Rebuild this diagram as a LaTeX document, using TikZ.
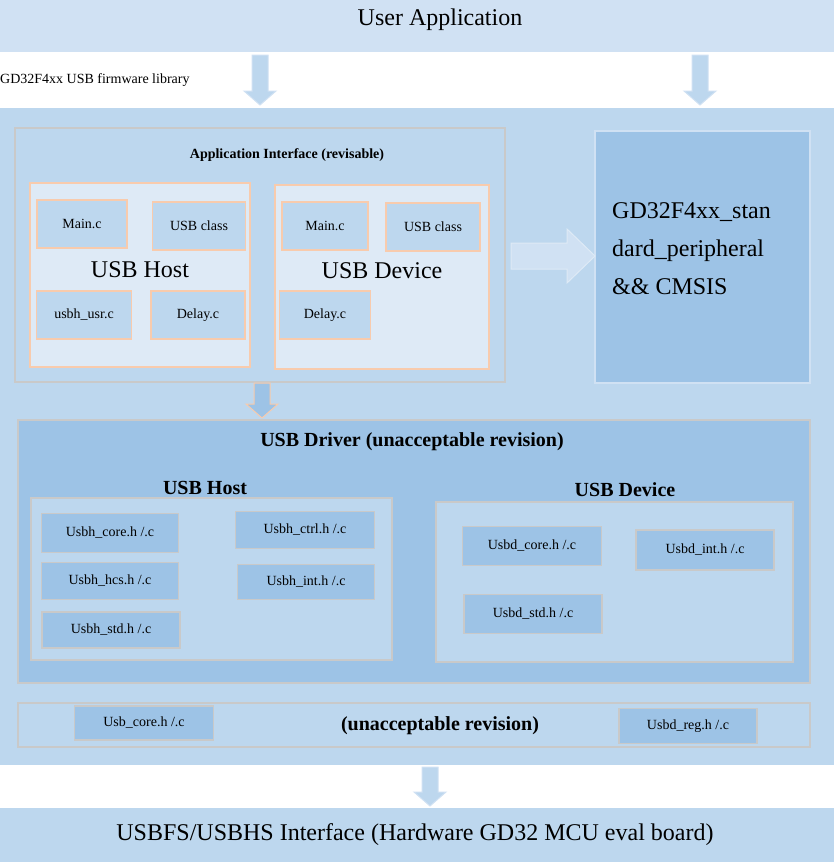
\documentclass[tikz,border=0pt]{standalone}
\usepackage{fontspec}
\setmainfont{Liberation Serif}
\newfontfamily\tnr{Liberation Serif}
\usetikzlibrary{positioning}

\definecolor{paleblue}{HTML}{D0E1F3}
\definecolor{midblue}{HTML}{BDD7EE}
\definecolor{deepblue}{HTML}{9DC3E6}
\definecolor{lightfill}{HTML}{DEEAF6}
\definecolor{peach}{HTML}{F8CBAD}
\definecolor{edgegray}{HTML}{C9C9C9}

\tikzset{
  panel/.style={draw=edgegray, line width=1.5pt},
  file/.style={draw=edgegray, line width=1.5pt, fill=deepblue, inner sep=0pt, font=\tnr\fontsize{14}{16}\selectfont},
  appfile/.style={draw=peach, line width=1.5pt, fill=midblue, inner sep=0pt, font=\tnr\fontsize{14}{16}\selectfont},
  big/.style={font=\tnr\fontsize{24}{28}\selectfont},
  head/.style={font=\tnr\bfseries\fontsize{20}{24}\selectfont},
  blockarrow/.style={fill=midblue, draw=paleblue, line width=1pt}
}
% down arrow: x, top, bottom
\newcommand{\downarrowshape}[4][blockarrow]{%
  \draw[#1] (#2-8,#3) -- (#2+8,#3) -- (#2+8,#4-14) -- (#2+16,#4-14) -- (#2,#4)
    -- (#2-16,#4-14) -- (#2-8,#4-14) -- cycle;}

\begin{document}
\begin{tikzpicture}[x=1pt,y=-1pt]
  \useasboundingbox (0,0) rectangle (834,862);

  % bands
  \fill[paleblue] (0,0) rectangle (834,52);
  \node[big] (user) at (440,20) {User Application};
  \fill[midblue] (0,108) rectangle (834,765);
  \fill[midblue] (0,808) rectangle (834,862);
  \node[big] (hw) at (415,835) {USBFS/USBHS Interface (Hardware GD32 MCU eval board)};
  \node[anchor=west, inner sep=0pt, font=\tnr\fontsize{14}{16}\selectfont] (lib) at (0,80) {GD32F4xx USB firmware library};

  \downarrowshape{260}{55}{105}
  \downarrowshape{700}{55}{105}
  \downarrowshape{430}{767}{806}

  % application interface
  \draw[panel, fill=midblue] (15,128) rectangle (505,382);
  \node[font=\tnr\bfseries\fontsize{14}{16}\selectfont] (apptitle) at (287,155) {Application Interface (revisable)};
  \draw[draw=peach, line width=1.5pt, fill=lightfill] (30,183) rectangle (250,367);
  \draw[draw=peach, line width=1.5pt, fill=lightfill] (275,185) rectangle (489,369);
  \node[appfile, minimum width=90pt, minimum height=48pt] (hmain) at (82,224) {Main.c};
  \node[appfile, minimum width=93pt, minimum height=48pt] (hclass) at (199,226) {USB class};
  \node[appfile, minimum width=95pt, minimum height=48pt] (husr) at (84,315) {usbh\_usr.c};
  \node[appfile, minimum width=94pt, minimum height=48pt] (hdelay) at (198,315) {Delay.c};
  \node[big] (hostlbl) at (140,270) {USB Host};
  \node[appfile, minimum width=86pt, minimum height=48pt] (dmain) at (325,226) {Main.c};
  \node[appfile, minimum width=94pt, minimum height=48pt] (dclass) at (433,227) {USB class};
  \node[appfile, minimum width=91pt, minimum height=48pt] (ddelay) at (325,315) {Delay.c};
  \node[big] (devlbl) at (382,271) {USB Device};

  % standard peripheral
  \draw[draw=paleblue, line width=1.5pt, fill=deepblue] (595,131) rectangle (810,383);
  \node[anchor=north west, align=left, inner sep=0pt, font=\tnr\fontsize{24}{38}\selectfont] (stdper) at (612,202)
    {GD32F4xx\_stan\\dard\_peripheral\\\&\& CMSIS};
  \draw[blockarrow, fill=paleblue, draw=lightfill] (511,243) -- (567,243) -- (567,229) -- (595,256)
    -- (567,283) -- (567,269) -- (511,269) -- cycle;
  \downarrowshape[fill=deepblue, draw=peach, line width=1pt]{262}{383}{418}

  % usb driver
  \draw[panel, fill=deepblue] (18,420) rectangle (810,683);
  \node[head] (drvtitle) at (412,442) {USB Driver (unacceptable revision)};
  \node[head] (drvhost) at (205,488) {USB Host};
  \node[head] (drvdev) at (625,490) {USB Device};
  \draw[panel, fill=midblue] (31,498) rectangle (392,660);
  \draw[panel, fill=midblue] (436,502) rectangle (793,662);
  \node[file, minimum width=137pt, minimum height=39pt] (hcore) at (110,533) {Usbh\_core.h /.c};
  \node[file, minimum width=139pt, minimum height=37pt] (hctrl) at (305,530) {Usbh\_ctrl.h /.c};
  \node[file, minimum width=137pt, minimum height=37pt] (hhcs) at (110,581) {Usbh\_hcs.h /.c};
  \node[file, minimum width=137pt, minimum height=35pt] (hint) at (306,582) {Usbh\_int.h /.c};
  \node[file, minimum width=138pt, minimum height=36pt] (hstd) at (111,630) {Usbh\_std.h /.c};
  \node[file, minimum width=139pt, minimum height=39pt] (dcore) at (532,546) {Usbd\_core.h /.c};
  \node[file, minimum width=138pt, minimum height=40pt] (dint) at (705,550) {Usbd\_int.h /.c};
  \node[file, minimum width=138pt, minimum height=39pt] (dstd) at (533,614) {Usbd\_std.h /.c};

  % low layer
  \draw[panel, fill=midblue] (18,703) rectangle (810,747);
  \node[file, minimum width=139pt, minimum height=34pt] (ucore) at (144,723) {Usb\_core.h /.c};
  \node[file, minimum width=138pt, minimum height=35pt] (dreg) at (688,726) {Usbd\_reg.h /.c};
  \node[head] (lowtitle) at (440,726) {(unacceptable revision)};
\end{tikzpicture}
\end{document}
